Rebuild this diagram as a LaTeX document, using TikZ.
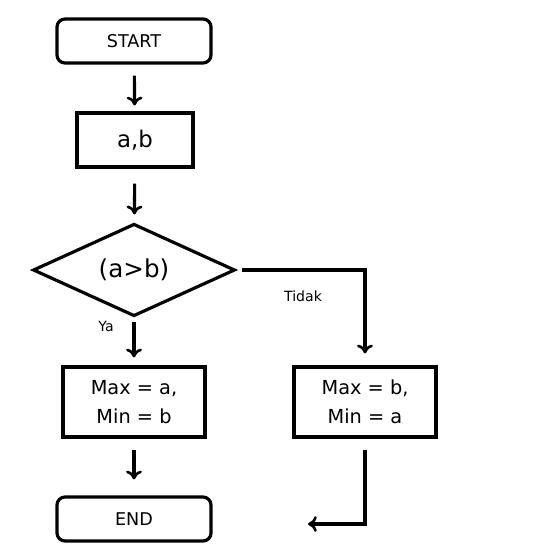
\documentclass[tikz,border=0pt]{standalone}
\usepackage{fontspec}
\setmainfont{DejaVu Sans}
\usetikzlibrary{shapes.geometric}
\usetikzlibrary{arrows.meta}
\tikzset{
    line/.style={line width=1.8pt},
    flow/.style={line, -{To[length=5pt,width=9pt,line width=1.5pt]}},
    terminal/.style={draw, line, rounded corners=0.16cm, minimum width=3.08cm, minimum height=0.88cm, font=\fontsize{10}{12}\selectfont},
    process/.style={draw, line, minimum width=2.84cm, minimum height=1.40cm, align=center, font=\fontsize{11}{16.5}\selectfont},
    decision/.style={draw, line, diamond, inner sep=0pt, minimum width=4.04cm, minimum height=1.84cm, font=\fontsize{14}{16}\selectfont},
    tag/.style={font=\fontsize{8}{10}\selectfont}
}

\begin{document}
\begin{tikzpicture}
            \useasboundingbox (0, 0) rectangle (10.64, -11);

            \node[terminal] (start) at (2.68, -0.82) {START};
            \node[draw, line, minimum width=2.32cm, minimum height=1.08cm, font=\fontsize{13}{15}\selectfont] (input) at (2.70, -2.80) {a,b};
            \node[decision] (check) at (2.68, -5.40) {(a>b)};
            \node[process] (maxa) at (2.68, -8.04) {Max = a,\\Min = b};
            \node[process] (maxb) at (7.30, -8.04) {Max = b,\\Min = a};
            \node[terminal] (stop) at (2.68, -10.38) {END};

            \node[tag] (ya) at (2.12, -6.52) {Ya};
            \node[tag] (tidak) at (6.06, -5.92) {Tidak};

            \coordinate (back) at (6.16, -10.48);

            \draw[flow, shorten <=0.22cm, shorten >=0.12cm] (start) -- (input);
            \draw[flow, shorten <=0.30cm, shorten >=0.16cm] (input) -- (check);
            \draw[flow, shorten <=0.08cm, shorten >=0.16cm] (check) -- (maxa);
            \draw[flow, shorten <=0.22cm, shorten >=0.32cm] (maxa) -- (stop);
            \draw[flow, shorten <=0.10cm, shorten >=0.24cm] (check.east) -| (maxb.north);
            \draw[flow, shorten <=0.22cm] (maxb.south) |- (back);

        \end{tikzpicture}
\end{document}
